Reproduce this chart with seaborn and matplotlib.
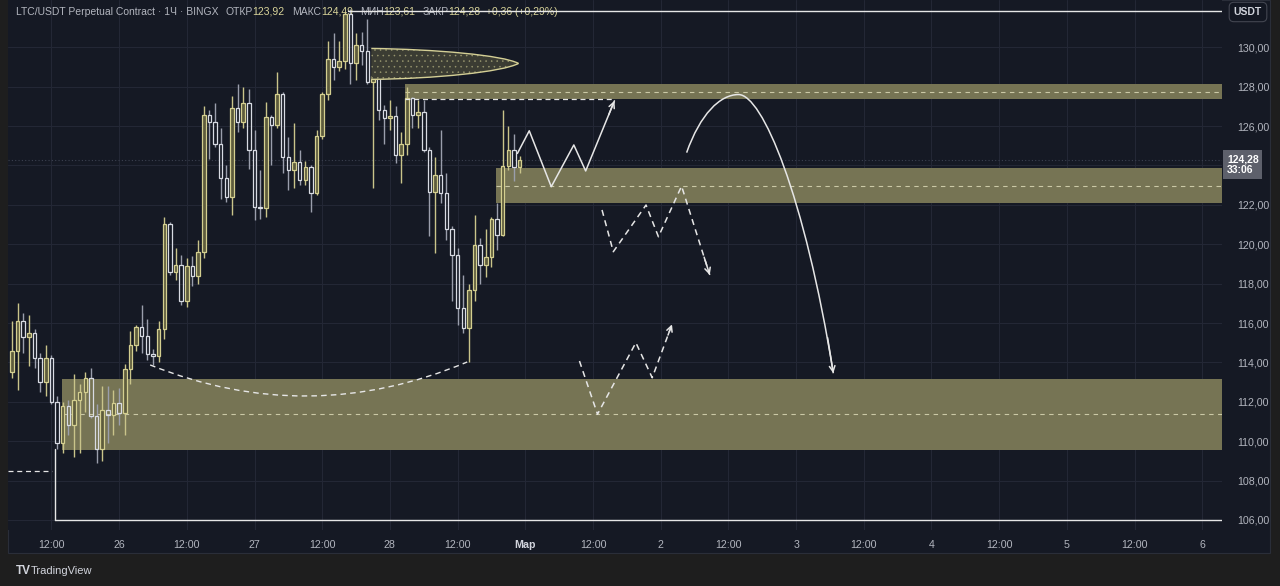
import matplotlib
matplotlib.use("Agg")
import matplotlib.pyplot as plt
from matplotlib.patches import Rectangle, PathPatch
from matplotlib.path import Path
from matplotlib.ticker import FuncFormatter
import seaborn as sns

sns.set_style("dark")
plt.rcParams['font.family'] = ['Liberation Sans', 'DejaVu Sans']

# LTC/USDT 1H candles, index 0 = 25 Feb 05:00 ... index 90 = 28 Feb 23:00
opens = [113.5, 114.6, 116.1, 115.3, 115.5, 114.2, 113.0, 114.2, 112.0, 109.9,
         111.8, 110.8, 112.1, 112.5, 113.2, 111.3, 109.6, 111.6, 111.35, 111.95,
         111.45, 113.65, 114.9, 115.8, 115.35, 114.45, 114.3, 115.7, 121.05, 118.6,
         118.95, 117.1, 118.9, 118.4, 119.6, 126.55, 126.2, 125.1, 123.35, 122.4,
         126.9, 126.2, 127.15, 124.8, 121.9, 121.85, 126.45, 126.05, 127.65, 124.45,
         123.75, 124.15, 123.25, 123.9, 122.6, 125.5, 127.65, 129.4, 129.0, 129.3,
         131.7, 129.2, 130.1, 129.8, 128.25, 128.55, 126.8, 126.4, 126.5, 124.55,
         125.1, 127.4, 126.55, 126.7, 124.8, 122.65, 123.5, 122.6, 120.75, 119.45,
         116.75, 115.75, 117.7, 119.95, 118.95, 119.35, 121.3, 120.45, 123.95, 124.8,
         123.92]
highs = [116.1, 117.0, 116.5, 116.4, 115.7, 114.5, 114.9, 114.4, 112.3, 112.0,
         112.1, 113.4, 112.9, 113.5, 113.7, 111.9, 112.8, 112.8, 112.6, 112.7,
         113.9, 115.6, 115.9, 116.9, 116.2, 114.7, 116.1, 121.4, 121.15, 119.8,
         119.45, 119.3, 119.4, 120.2, 127.0, 126.8, 127.15, 125.9, 124.0, 127.55,
         128.15, 128.0, 127.9, 125.8, 123.75, 127.2, 126.55, 128.75, 127.75, 125.45,
         126.15, 124.8, 124.25, 124.0, 125.8, 127.75, 130.3, 130.7, 130.3, 131.8,
         131.95, 130.7, 130.8, 131.45, 129.95, 128.7, 127.05, 127.3, 127.0, 125.7,
         128.0, 127.5, 127.3, 127.3, 124.95, 124.45, 125.8, 123.6, 120.9, 119.8,
         118.45, 118.0, 121.5, 120.3, 120.75, 121.4, 122.1, 126.8, 126.0, 125.6,
         124.49]
lows = [113.2, 112.6, 114.5, 113.8, 113.7, 112.5, 112.3, 111.9, 109.6, 109.4,
        110.3, 109.2, 109.4, 111.5, 111.2, 108.9, 109.0, 109.9, 110.3, 110.8,
        110.3, 112.9, 114.6, 114.5, 114.1, 113.87, 114.0, 115.2, 118.45, 118.2,
        116.9, 116.8, 117.9, 118.0, 119.3, 124.35, 124.95, 122.3, 122.15, 121.5,
        125.7, 125.9, 123.8, 121.25, 121.3, 121.4, 124.0, 125.9, 123.6, 122.75,
        122.85, 123.0, 123.0, 121.65, 122.5, 125.35, 127.3, 128.35, 128.8, 128.9,
        128.15, 128.35, 129.1, 128.15, 122.85, 126.3, 125.1, 125.8, 124.1, 123.1,
        124.55, 125.9, 125.9, 124.7, 120.4, 119.55, 122.1, 120.2, 117.1, 115.9,
        115.5, 114.04, 117.1, 118.0, 118.35, 118.85, 119.7, 120.4, 123.75, 123.2,
        123.61]
closes = [114.6, 116.1, 115.3, 115.5, 114.2, 113.0, 114.2, 112.0, 109.9, 111.8,
          110.8, 112.1, 112.5, 113.2, 111.3, 109.6, 111.6, 111.35, 111.95, 111.45,
          113.65, 114.9, 115.8, 115.35, 114.45, 114.3, 115.7, 121.05, 118.6, 118.95,
          117.1, 118.9, 118.4, 119.6, 126.55, 126.2, 125.1, 123.35, 122.4, 126.9,
          126.2, 127.15, 124.8, 121.9, 121.85, 126.45, 126.05, 127.65, 124.45, 123.75,
          124.15, 123.25, 123.9, 122.6, 125.5, 127.65, 129.4, 129.0, 129.3, 131.7,
          129.2, 130.1, 129.8, 128.25, 128.55, 126.8, 126.4, 126.5, 124.55, 125.1,
          127.4, 126.55, 126.7, 124.8, 122.65, 123.5, 122.6, 120.75, 119.45, 116.75,
          115.75, 117.7, 119.95, 118.95, 119.35, 121.3, 120.45, 123.95, 124.8, 123.92,
          124.28]

tick_pos = list(range(7, 212, 12))
tick_labels = ["12:00", "26", "12:00", "27", "12:00", "28", "12:00", "Мар",
               "12:00", "2", "12:00", "3", "12:00", "4", "12:00", "5", "12:00", "6"]
price_ticks = list(range(106, 131, 2))
countdown = "33:06"

# zones (left index, low, high, mid)
zone_left = [8.9, 69.7, 85.8]
zone_low = [109.55, 127.37, 122.09]
zone_high = [113.16, 128.13, 123.85]
zone_mid = [111.38, 127.73, 122.95]

# drawn paths (hour index, price)
up_x = [89.6, 91.7, 95.6, 99.6, 101.7, 106.8]
up_y = [124.61, 125.76, 122.92, 125.04, 123.72, 127.28]
mid_x = [104.6, 106.6, 112.4, 114.6, 118.7, 123.7]
mid_y = [121.74, 119.62, 121.99, 120.38, 122.95, 118.44]
low_x = [100.6, 103.8, 110.6, 113.5, 117.0]
low_y = [114.07, 111.37, 115.0, 113.22, 115.93]
arc_x = [119.6, 122.0, 125.5, 128.8, 133.0, 140.5, 145.6]
arc_y = [124.65, 126.6, 127.6, 127.6, 127.6, 122.5, 113.45]
cup_x = [24.5, 52.6, 80.7]
cup_y = [113.87, 110.64, 114.02]
drop_x = [63.7, 75.0, 87.0, 89.8, 87.0, 75.0, 63.7]
drop_y = [129.94, 129.9, 129.6, 129.18, 128.75, 128.4, 128.37]

x_min, x_max = -0.7, 214.5
y_min, y_max = 105.49, 132.4

BG = '#151924'
GRID = '#232735'
TXT = '#b2b5be'
YEL = '#d9d49a'
WHITE = '#e6e6e6'

fig = plt.figure(figsize=(12.8, 5.86), dpi=100, facecolor='#1e1e1e')
fig.add_artist(Rectangle((8 / 1280, 1 - 553 / 586), 1262 / 1280, 553 / 586,
                         transform=fig.transFigure, fc=BG, ec='#2a2e39', lw=0.8, zorder=0))
ax = fig.add_axes([8 / 1280, 1 - 530 / 586, 1214 / 1280, 530 / 586])
ax.set_facecolor(BG)
ax.set_xlim(x_min, x_max)
ax.set_ylim(y_min, y_max)

for s in ax.spines.values():
    s.set_visible(False)
ax.set_xticks(tick_pos)
ax.set_xticklabels(tick_labels)
ax.set_yticks(price_ticks)
ax.yaxis.tick_right()


def price_fmt(v, p):
    # the label under the live price badge is hidden, as on the screen
    if abs(v - closes[-1]) < 1.0:
        return ""
    return f"{v:.2f}".replace('.', ',')


ax.yaxis.set_major_formatter(FuncFormatter(price_fmt))
ax.tick_params(axis='y', length=0, pad=11, labelsize=7.7, colors=TXT)
ax.tick_params(axis='x', length=0, pad=7, labelsize=7.7, colors=TXT)
for lab in ax.get_xticklabels():
    if lab.get_text() == "Мар":
        lab.set_fontweight('bold')
        lab.set_color('#d1d4dc')
ax.grid(True, color=GRID, lw=0.8)
ax.set_axisbelow(True)

# current price dotted line
ax.axhline(closes[-1], color='#3c4150', lw=0.8, ls=(0, (1, 2)), zorder=1)

# zones
for xl, lo, hi, md in zip(zone_left, zone_low, zone_high, zone_mid):
    ax.fill_between([xl, x_max], lo, hi, color='#767454', lw=0, zorder=2)
    ax.plot([xl, x_max], [md, md], color='#cbc9a6', lw=0.8, ls=(0, (4, 4)), zorder=2.5)

# candles
idx = list(range(len(opens)))
for i, o, h, l, c in zip(idx, opens, highs, lows, closes):
    up = c >= o
    wick = '#c9c48a' if up else '#9a9eac'
    edge = '#d4cf90' if up else '#d8dbe3'
    face = '#5e5c3d' if up else 'none'
    ax.vlines(i, l, min(o, c), color=wick, lw=1, zorder=3)
    ax.vlines(i, max(o, c), h, color=wick, lw=1, zorder=3)
    ax.bar(i, max(abs(c - o), 0.05), bottom=min(o, c), width=0.62,
           facecolor=face, edgecolor=edge, lw=0.9, zorder=4)

# horizontal lines
ax.plot([59.5, x_max], [131.85, 131.85], color=WHITE, lw=1, zorder=5)
ax.plot([7.7, x_max], [106.0, 106.0], color=WHITE, lw=1, zorder=5)
ax.plot([7.7, 7.7], [109.6, 106.0], color=WHITE, lw=1, zorder=5)
ax.plot([x_min, 7.1], [108.49, 108.49], color=WHITE, lw=0.9, ls=(0, (4, 3)), zorder=5)
ax.plot([69.7, 106.4], [127.37, 127.37], color=WHITE, lw=0.9, ls=(0, (4, 3)), zorder=5)

# zigzag projections
sns.lineplot(x=up_x, y=up_y, sort=False, estimator=None, color=WHITE, lw=1.1, ax=ax, zorder=6)
sns.lineplot(x=mid_x, y=mid_y, sort=False, estimator=None, color=WHITE, lw=1.1,
             linestyle=(0, (4, 3)), ax=ax, zorder=6)
sns.lineplot(x=low_x, y=low_y, sort=False, estimator=None, color=WHITE, lw=1.1,
             linestyle=(0, (4, 3)), ax=ax, zorder=6)


def head(xs, ys):
    dx, dy = xs[-1] - xs[-2], ys[-1] - ys[-2]
    ax.annotate('', xy=(xs[-1], ys[-1]), xytext=(xs[-1] - 0.2 * dx, ys[-1] - 0.2 * dy),
                arrowprops=dict(arrowstyle='->', color=WHITE, lw=1.1, mutation_scale=10,
                                shrinkA=0, shrinkB=0), zorder=6)


head(up_x, up_y)
head(mid_x, mid_y)
head(low_x, low_y)

# big arc
arc = Path(list(zip(arc_x, arc_y)), [Path.MOVETO] + [Path.CURVE4] * 6)
ax.add_patch(PathPatch(arc, fill=False, ec=WHITE, lw=1.1, zorder=6))
head(arc_x[-2:], arc_y[-2:])

# cup under the lows
cup = Path(list(zip(cup_x, cup_y)), [Path.MOVETO, Path.CURVE3, Path.CURVE3])
ax.add_patch(PathPatch(cup, fill=False, ec=WHITE, lw=1, ls=(0, (4, 3)), zorder=6))

# teardrop shape at the top
plt.rcParams['hatch.linewidth'] = 0.35
drop = Path(list(zip(drop_x, drop_y)), [Path.MOVETO] + [Path.CURVE4] * 6)
ax.add_patch(PathPatch(drop, fc='#3b3c33', ec='#9a9870', lw=0, hatch='...', zorder=5))
ax.add_patch(PathPatch(drop, fill=False, ec='#d4cf95', lw=1, zorder=5.5))

# header legend
pieces = [("LTC/USDT Perpetual Contract · 1Ч · BINGX", TXT, 0),
          ("ОТКР", TXT, 5), (f"{opens[-1]:.2f}".replace('.', ','), YEL, 0),
          ("МАКС", TXT, 5), (f"{highs[-1]:.2f}".replace('.', ','), YEL, 0),
          ("МИН", TXT, 5), (f"{lows[-1]:.2f}".replace('.', ','), YEL, 0),
          ("ЗАКР", TXT, 5), (f"{closes[-1]:.2f}".replace('.', ','), YEL, 0)]
chg = closes[-1] - opens[-1]
pct = chg / opens[-1] * 100
pieces.append((f"+{chg:.2f} (+{pct:.2f}%)".replace('.', ','), YEL, 4))
prev = fig.text(16 / 1280, 1 - 12 / 586, pieces[0][0], color=pieces[0][1],
                fontsize=7.5, va='center', ha='left')
for txt, col, gap in pieces[1:]:
    prev = ax.annotate(txt, xy=(1, 0.5), xycoords=prev, xytext=(gap, 0),
                       textcoords='offset points', va='center', ha='left',
                       color=col, fontsize=7.5, annotation_clip=False)

# price scale badges
fig.text(1248 / 1280, 1 - 12 / 586, "USDT", color='#d1d4dc', fontsize=7.5,
         fontweight='bold', ha='center', va='center',
         bbox=dict(boxstyle='round,pad=0.45', fc='#131722', ec='#434651', lw=0.8))
ax.text(1.0 + 5 / 1214, closes[-1] + 0.3,
        f"{closes[-1]:.2f}".replace('.', ',') + "\n" + countdown,
        transform=ax.get_yaxis_transform(), color='white', fontsize=7.5, fontweight='bold',
        ha='left', va='top', linespacing=1.15,
        bbox=dict(boxstyle='square,pad=0.35', fc='#5d606b', ec='none'))

# footer
fig.text(16 / 1280, 1 - 571 / 586, "TV", color='#d1d4dc', fontsize=8.5,
         fontweight='bold', ha='left', va='center')
fig.text(31 / 1280, 1 - 571 / 586, "TradingView", color='#d1d4dc', fontsize=8,
         ha='left', va='center')

fig.savefig("out.png", dpi=100, facecolor=fig.get_facecolor())
